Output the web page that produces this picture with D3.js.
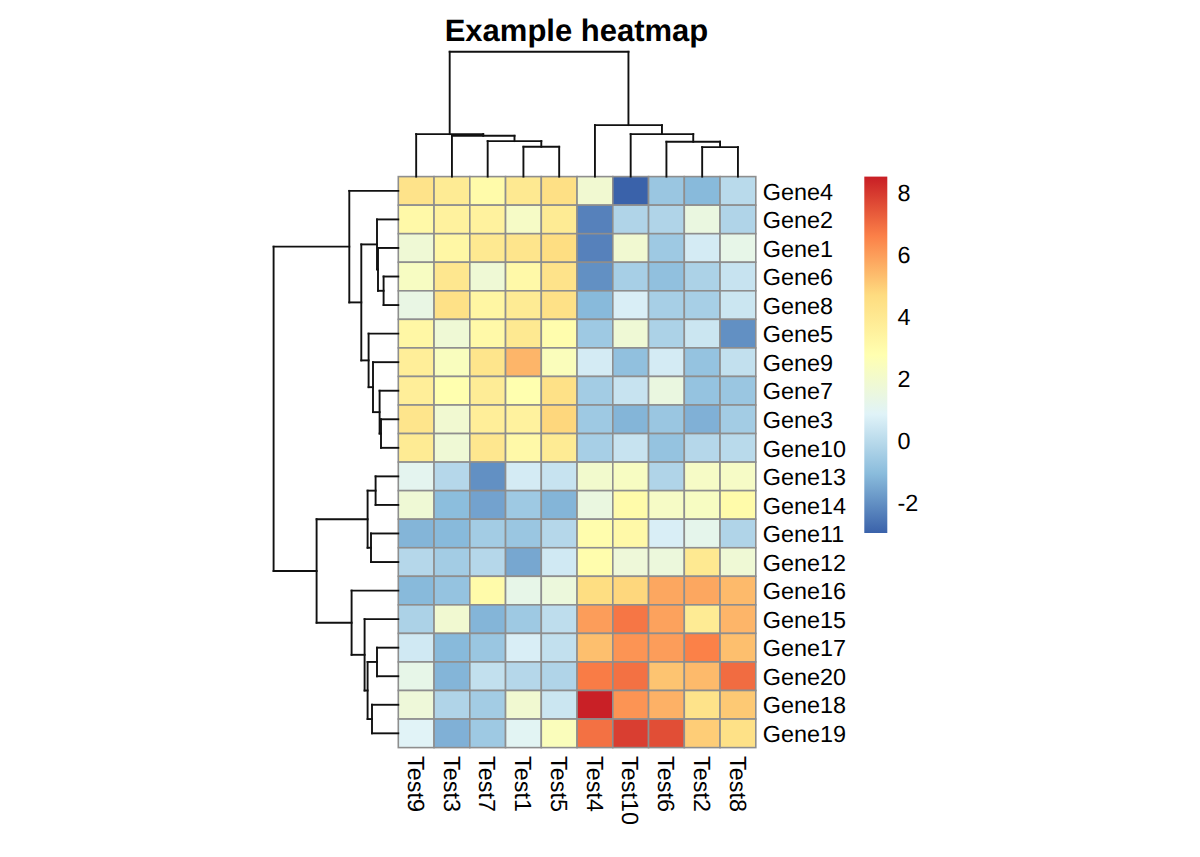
<!DOCTYPE html>
<html>
<head>
  <title>Example heatmap</title>
  <meta http-equiv="content-type" content="text/html; charset=UTF-8">
  <script type="text/javascript" src="https://cdnjs.cloudflare.com/ajax/libs/d3/7.8.5/d3.min.js"></script>
</head>
<body style="margin:0;background:#fff">

<style>
  text {
    font-family: "Liberation Sans", Arial, sans-serif;
    fill: #000;
    text-rendering: geometricPrecision;
  }
  .axis text { font-size: 23.4px; }
  .axis path, .axis line { display: none; }
</style>

<script type="text/javascript">
  var genes = ["Gene4","Gene2","Gene1","Gene6","Gene8","Gene5","Gene9","Gene7","Gene3","Gene10",
    "Gene13","Gene14","Gene11","Gene12","Gene16","Gene15","Gene17","Gene20","Gene18","Gene19"];
  var tests = ["Test9","Test3","Test7","Test1","Test5","Test4","Test10","Test6","Test2","Test8"];

  // one row per gene, same order as tests
  var values = [
    [4.3, 3.9, 3.0, 4.0, 4.5, 1.9, -3.0, -0.7, -1.1, 0.0],
    [3.1, 3.5, 3.5, 2.2, 3.9, -2.3, -0.2, -0.2, 1.5, -0.2],
    [1.8, 3.2, 4.0, 4.2, 4.6, -2.3, 1.9, -0.6, 0.6, 1.3],
    [2.3, 4.1, 1.8, 3.1, 4.3, -2.0, -0.4, -0.9, -0.3, 0.3],
    [1.4, 4.4, 3.3, 3.9, 4.4, -1.1, 0.7, -0.4, -0.4, 0.4],
    [3.2, 1.8, 3.1, 4.0, 2.9, -0.6, 1.8, -0.3, 0.4, -2.0],
    [3.7, 2.4, 4.2, 5.5, 2.5, 0.6, -0.9, 0.6, -0.8, 0.2],
    [3.7, 2.8, 3.8, 2.8, 4.4, -0.5, 0.3, 1.5, -0.8, -0.7],
    [4.2, 1.9, 3.7, 3.5, 4.8, -0.6, -1.2, -0.7, -1.3, -0.5],
    [3.9, 1.8, 4.1, 3.1, 3.9, -0.4, 0.3, -0.8, -0.1, 0.0],
    [1.1, -0.1, -2.0, 0.6, 0.3, 2.0, 2.3, -0.2, 2.2, 2.2],
    [1.8, -1.0, -1.6, -0.6, -1.2, 1.5, 3.0, 2.2, 2.3, 3.0],
    [-1.2, -1.1, -0.5, -0.7, -0.1, 2.9, 3.1, 0.7, 1.2, -0.2],
    [-0.1, -0.5, -0.1, -1.5, 0.5, 2.9, 1.7, 1.6, 4.0, 1.8],
    [-1.1, -0.8, 3.0, 1.3, 1.6, 4.6, 4.8, 5.8, 5.8, 5.4],
    [-0.3, 1.9, -1.2, -0.6, 0.1, 6.0, 6.8, 5.9, 3.9, 5.5],
    [0.5, -1.1, -0.7, 0.7, 0.2, 5.3, 6.2, 6.0, 6.6, 5.3],
    [1.3, -1.2, 0.2, -0.1, -0.2, 6.7, 6.9, 5.2, 5.4, 7.0],
    [1.7, -0.2, -0.5, 1.9, 0.4, 8.5, 6.2, 5.6, 4.3, 5.1],
    [0.9, -1.3, -0.6, 1.0, 2.5, 6.9, 7.9, 7.6, 5.0, 4.4]
  ];

  // merges like hclust: [child, child, height], a number points to an earlier merge
  var geneMerges = [
    ["Gene6", "Gene8", 1.47],
    ["Gene1", 0, 2.03],
    ["Gene2", 1, 2.13],
    ["Gene3", "Gene10", 1.73],
    ["Gene7", 3, 1.87],
    ["Gene9", 4, 2.53],
    ["Gene5", 5, 2.97],
    [2, 6, 3.7],
    ["Gene4", 7, 4.9],
    ["Gene13", "Gene14", 2.27],
    ["Gene11", "Gene12", 2.73],
    [9, 10, 3.07],
    ["Gene17", "Gene20", 2.13],
    ["Gene18", "Gene19", 2.63],
    [12, 13, 3.07],
    ["Gene15", 14, 3.37],
    ["Gene16", 15, 4.67],
    [11, 16, 8.17],
    [8, 17, 12.47]
  ];
  var testMerges = [
    ["Test1", "Test5", 2.98],
    ["Test7", 0, 3.55],
    ["Test3", 1, 4.08],
    ["Test9", 2, 4.25],
    ["Test2", "Test8", 2.95],
    ["Test6", 4, 3.48],
    ["Test10", 5, 4.25],
    ["Test4", 6, 5.15],
    [3, 7, 12.48]
  ];

  var legendTicks = [-2, 0, 2, 4, 6, 8];
  var valueRange = [-2.97, 8.53];
  var paletteColors = ["#3a62aa", "#8abcdc", "#e0f3f8", "#ffffb0", "#fedc80", "#fb8048", "#c81e25"];

  var width = 1200, height = 857;
  var mapLeft = 398.3, mapRight = 755.8, mapTop = 176.6, mapBottom = 747.6;
  var legendBottom = 533;

  var svg = d3.select("body").append("svg")
    .attr("width", width)
    .attr("height", height)
    .style("display", "block");

  var x = d3.scaleBand().domain(tests).range([mapLeft, mapRight]);
  var y = d3.scaleBand().domain(genes).range([mapTop, mapBottom]);

  var step = (valueRange[1] - valueRange[0]) / (paletteColors.length - 1);
  var color = d3.scaleLinear()
    .domain(paletteColors.map(function (c, i) { return valueRange[0] + i * step; }))
    .range(paletteColors)
    .clamp(true);

  svg.append("text")
    .attr("x", 576.5)
    .attr("y", 40.5)
    .attr("text-anchor", "middle")
    .style("font-size", "31px")
    .style("font-weight", "bold")
    .text("Example heatmap");

  // cells
  var cells = [];
  values.forEach(function (row, i) {
    row.forEach(function (v, j) {
      cells.push({gene: genes[i], test: tests[j], value: v});
    });
  });

  svg.append("g").selectAll("rect")
    .data(cells)
    .enter().append("rect")
    .attr("x", function (d) { return x(d.test); })
    .attr("y", function (d) { return y(d.gene); })
    .attr("width", x.bandwidth())
    .attr("height", y.bandwidth())
    .style("fill", function (d) { return color(d.value); })
    .style("stroke", "#8e8e8e")
    .style("stroke-width", 1.6);

  // dendrograms, a node sits midway between its two children
  function treeSegments(merges, leafPos) {
    var done = [];
    var segs = [];
    function child(c) {
      return typeof c === "number" ? done[c] : {pos: leafPos(c), h: 0};
    }
    merges.forEach(function (m) {
      var a = child(m[0]), b = child(m[1]);
      segs.push({p1: a.pos, p2: a.pos, h1: a.h, h2: m[2]});
      segs.push({p1: b.pos, p2: b.pos, h1: b.h, h2: m[2]});
      segs.push({p1: a.pos, p2: b.pos, h1: m[2], h2: m[2]});
      done.push({pos: (a.pos + b.pos) / 2, h: m[2]});
    });
    return segs;
  }

  function drawSegments(segs, fx1, fy1, fx2, fy2) {
    svg.append("g").selectAll("line")
      .data(segs)
      .enter().append("line")
      .attr("x1", fx1).attr("y1", fy1)
      .attr("x2", fx2).attr("y2", fy2)
      .style("stroke", "#111")
      .style("stroke-width", 1.9)
      .style("stroke-linecap", "square");
  }

  var colH = d3.scaleLinear().domain([0, 12.48]).range([mapTop, 51.8]);
  var rowH = d3.scaleLinear().domain([0, 12.47]).range([mapLeft, 273.6]);

  drawSegments(
    treeSegments(testMerges, function (t) { return x(t) + x.bandwidth() / 2; }),
    function (d) { return d.p1; }, function (d) { return colH(d.h1); },
    function (d) { return d.p2; }, function (d) { return colH(d.h2); });

  drawSegments(
    treeSegments(geneMerges, function (g) { return y(g) + y.bandwidth() / 2; }),
    function (d) { return rowH(d.h1); }, function (d) { return d.p1; },
    function (d) { return rowH(d.h2); }, function (d) { return d.p2; });

  // gene and test labels
  svg.append("g")
    .attr("class", "axis")
    .attr("transform", "translate(" + (mapRight + 7) + ",1.2)")
    .call(d3.axisRight(y).tickSize(0).tickPadding(0));

  var colAxis = svg.append("g")
    .attr("class", "axis")
    .attr("transform", "translate(0," + (mapBottom + 8.5) + ")")
    .call(d3.axisBottom(x).tickSize(0).tickPadding(0));

  colAxis.selectAll("text")
    .attr("transform", "rotate(90)")
    .attr("x", 0)
    .attr("y", 0)
    .attr("dy", "0.35em")
    .attr("text-anchor", "start");

  // legend, gradient runs from low value at the bottom to high at the top
  var legendY = d3.scaleLinear().domain(valueRange).range([legendBottom, mapTop]);

  var grad = svg.append("defs").append("linearGradient")
    .attr("id", "legendRamp")
    .attr("x1", 0).attr("y1", 1)
    .attr("x2", 0).attr("y2", 0);

  grad.selectAll("stop")
    .data(paletteColors)
    .enter().append("stop")
    .attr("offset", function (d, i) { return i / (paletteColors.length - 1); })
    .attr("stop-color", function (d) { return d; });

  svg.append("rect")
    .attr("x", 864.3)
    .attr("y", mapTop)
    .attr("width", 23)
    .attr("height", legendBottom - mapTop)
    .style("fill", "url(#legendRamp)");

  // plain hyphen in the labels, as in the original
  svg.append("g")
    .attr("class", "axis")
    .attr("transform", "translate(897.5,0)")
    .call(d3.axisRight(legendY).tickValues(legendTicks).tickSize(0).tickPadding(0).tickFormat(function (d) { return String(d); }));
</script>
</body>
</html>
